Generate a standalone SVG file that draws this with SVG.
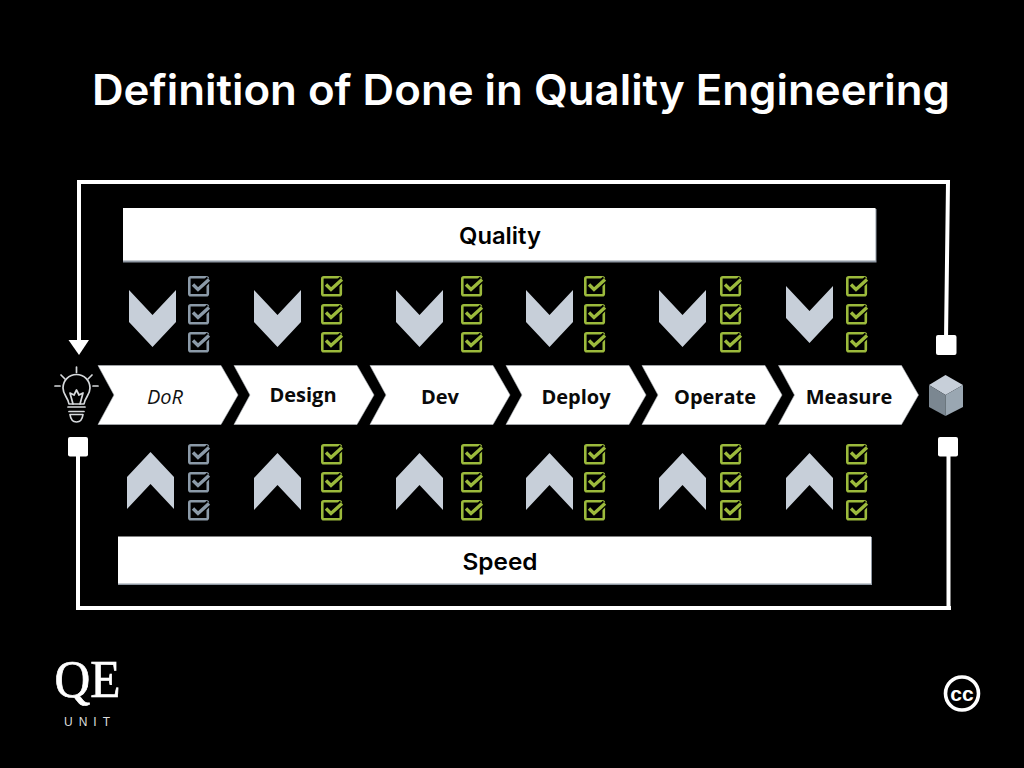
<svg xmlns="http://www.w3.org/2000/svg" width="1024" height="768" viewBox="0 0 1024 768">
<style>
.line{fill:none;stroke:#fff;stroke-width:4}
.bar{fill:#fff;stroke:none}
.shadow{fill:#8f98a3}
.barT{font:600 23px Inter,"Liberation Sans",sans-serif;fill:#000;text-anchor:middle}
.step{fill:#fff;stroke:#b5bac0;stroke-width:.6}
.lbl{font:700 20px "Open Sans","Liberation Sans",sans-serif;fill:#0a0a0a;text-anchor:middle}
.chev{fill:#c7cfd9}
.bx{fill:none;stroke-width:2.6;stroke-linejoin:round}
.ck{fill:none;stroke-width:3.4}
.halo{fill:none;stroke:#000;stroke-width:6.5}
.g{stroke:#9cba3c}
.n{stroke:#8b9aa8}
.sq{fill:#fff}
.ic{fill:none;stroke:#d6d9dc;stroke-width:1.7;stroke-linecap:round;stroke-linejoin:round}
</style>
<defs>
<g id="cb"><rect class="bx" x="1.3" y="1.3" width="18.500" height="18" rx="1.5"/><path class="halo" d="M16 8 L21 3"/><path class="ck" d="M5 8.500 L10 13.500 L21 3.500"/></g>
<g id="cbs"><use href="#cb" y="0"/><use href="#cb" y="28"/><use href="#cb" y="56"/></g>
<path id="dn" class="chev" d="M0 0 L23.500 25 L47 0 V32 L23.500 57 L0 32 Z"/>
<path id="up" class="chev" d="M0 25 L23.500 0 L47 25 V57 L23.500 32 L0 57 Z"/>
<path id="st" class="step" d="M0 0 H123 L140 29.500 L123 59 H0 L16 29.500 Z"/>
</defs>
<rect width="1024" height="768" fill="#000"/>
<text x="521" y="105" font-family="Inter,'Liberation Sans',sans-serif" font-weight="600" font-size="42" fill="#fff" text-anchor="middle" textLength="858" lengthAdjust="spacingAndGlyphs">Definition of Done in Quality Engineering</text>

<g id="connectors">
<path class="line" d="M79 340 V182 H948 L946 340"/>
<path id="arrow-head" fill="#fff" d="M68.500 340 H89 L79 355 Z"/>
<rect class="sq" x="936" y="335" width="20.500" height="20" rx="2"/>
<path class="line" d="M78 450 V608 H951 M948.500 450 V608"/>
<rect class="sq" x="68" y="437" width="20" height="19.500" rx="2"/>
<rect class="sq" x="938" y="437" width="20" height="19.500" rx="2"/>
</g>

<g id="quality"><rect class="shadow" x="123" y="209" width="753.500" height="53.500"/><rect class="bar" x="123" y="208" width="752.500" height="52.500"/><text class="barT" x="500" y="243.500" textLength="82" lengthAdjust="spacingAndGlyphs">Quality</text></g>
<g id="speed"><rect class="shadow" x="118" y="537" width="754" height="48"/><rect class="bar" x="118" y="536.500" width="753" height="47"/><text class="barT" x="500" y="569.500" textLength="75" lengthAdjust="spacingAndGlyphs">Speed</text></g>

<g id="idea"><path class="ic" d="M69 404 C68 397 63 395 63 388 A13.500 13.500 0 0 1 90 388 C90 395 85 397 84 404 Z"/>
<path class="ic" d="M68 407 H85 M69 411.500 H84 M70 414.500 H83 Q82 422 76.500 422 Q71 422 70 414.500 M73 404 L70 393 L74 395 L76.500 390 L79 395 L83 393 L80 404 M76.500 367 V372.500 M61 375 L65 379 M92 375 L88 379 M55 386 H60 M93 386 H98"/></g>

<g id="dor"><use href="#st" x="98" y="365.500"/><text x="165" y="404" font-family="'Open Sans','Liberation Sans',sans-serif" font-style="italic" font-size="20" fill="#111" text-anchor="middle">DoR</text></g>
<g id="design"><use href="#st" x="234" y="365.500"/><text class="lbl" x="303" y="402">Design</text></g>
<g id="dev"><use href="#st" x="370" y="365.500"/><text class="lbl" x="440" y="404">Dev</text></g>
<g id="deploy"><use href="#st" x="506" y="365.500"/><text class="lbl" x="576" y="404">Deploy</text></g>
<g id="operate"><use href="#st" x="642" y="365.500"/><text class="lbl" x="715" y="404">Operate</text></g>
<g id="measure"><use href="#st" x="778.500" y="365.500"/><text class="lbl" x="849" y="404">Measure</text></g>

<g id="done"><path fill="#c7cfd9" d="M945.500 375 L963 385 L945.500 395 L929 385 Z"/><path fill="#7b8791" d="M929 385 L945.500 395 V416 L929 407 Z"/><path fill="#9aa7b2" d="M963 385 L945.500 395 V416 L963 407 Z"/></g>

<g id="top-chevrons">
<use href="#dn" x="129" y="290"/><use href="#dn" x="254" y="290"/><use href="#dn" x="396" y="290"/><use href="#dn" x="526" y="290"/><use href="#dn" x="659" y="290"/><use href="#dn" x="786" y="286"/>
</g>
<g id="bottom-chevrons">
<use href="#up" x="127" y="452"/><use href="#up" x="254" y="453"/><use href="#up" x="396" y="453"/><use href="#up" x="526" y="453"/><use href="#up" x="659" y="453"/><use href="#up" x="786" y="453"/>
</g>
<g id="top-checks">
<use href="#cbs" class="n" x="188" y="276"/><use href="#cbs" class="g" x="321" y="276"/><use href="#cbs" class="g" x="461" y="276"/><use href="#cbs" class="g" x="584" y="276"/><use href="#cbs" class="g" x="720" y="276"/><use href="#cbs" class="g" x="846" y="276"/>
</g>
<g id="bottom-checks">
<use href="#cbs" class="n" x="188" y="444"/><use href="#cbs" class="g" x="321" y="444"/><use href="#cbs" class="g" x="461" y="444"/><use href="#cbs" class="g" x="584" y="444"/><use href="#cbs" class="g" x="720" y="444"/><use href="#cbs" class="g" x="846" y="444"/>
</g>

<g id="logo"><text x="87.500" y="697" font-family="'Liberation Serif',serif" font-size="52" fill="#fff" stroke="#fff" stroke-width=".7" text-anchor="middle" textLength="66" lengthAdjust="spacingAndGlyphs">QE</text>
<text x="90" y="726" font-family="'Liberation Sans',sans-serif" font-size="12" fill="#ddd" text-anchor="middle" letter-spacing="6">UNIT</text></g>
<g id="cc"><circle cx="962" cy="693.500" r="16.500" fill="none" stroke="#fff" stroke-width="3.600"/><text x="962" y="700.500" font-family="'Liberation Sans',sans-serif" font-weight="700" font-size="21" fill="#fff" text-anchor="middle">cc</text></g>
</svg>
